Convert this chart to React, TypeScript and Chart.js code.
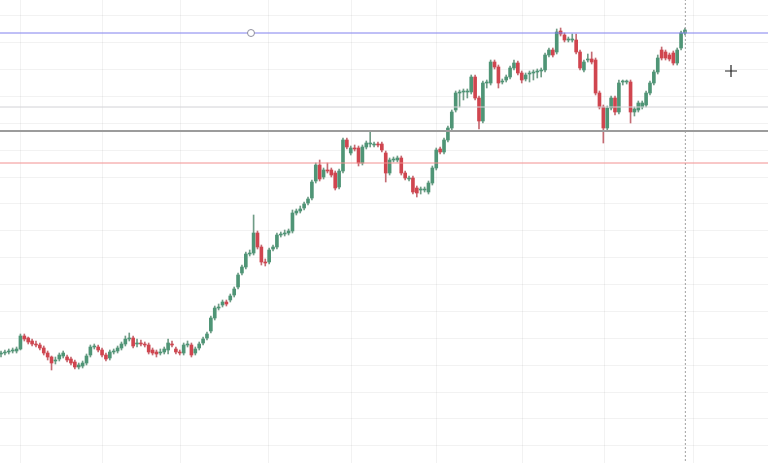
import React, { useEffect, useRef } from "react";
import { Chart, registerables } from "chart.js";

Chart.register(...registerables);

// OHLC candles (price units)
const opens = [146,147,148,149,149,151,164,162,159,156,155,152,147,143,139,141,144,143,141,138,133,134,137,145,153,153,150,145,142,148,149,152,156,161,162,156,157,156,155,150,148,147,148,150,156,151,148,147,155,155,147,152,157,162,169,182,192,195,198,200,205,213,227,233,246,247,267,253,238,238,251,253,265,266,267,269,287,289,292,297,302,319,335,323,330,330,327,313,329,360,347,352,352,337,353,356,355,356,356,347,327,340,340,342,327,321,322,312,310,310,308,317,332,351,348,360,372,390,407,408,408,408,423,402,379,417,417,438,433,418,420,423,432,437,427,421,426,427,428,429,430,445,450,448,469,465,460,460,460,448,430,440,441,440,407,393,372,392,402,388,418,418,418,388,390,393,395,407,417,428,450,448,445,447,437,452,467];
const highs = [149,150,151,152,153,166,166,163,161,159,157,154,149,144,143,147,149,145,143,140,137,139,146,155,156,155,152,147,150,151,154,158,164,167,164,161,160,158,157,152,150,151,153,161,159,153,150,157,159,157,153,158,163,168,184,194,196,200,200,206,213,227,235,248,250,285,269,255,241,252,255,267,268,270,271,290,291,294,298,303,320,337,340,332,337,332,329,331,362,362,354,355,354,355,359,368,358,358,358,349,342,343,344,344,329,324,324,314,313,313,319,334,352,353,362,374,390,409,410,411,411,425,425,404,419,420,440,440,435,421,425,434,440,439,429,427,429,430,431,432,447,452,452,471,472,467,463,466,466,450,440,446,448,442,409,395,394,404,404,420,420,420,420,393,399,399,409,419,430,445,453,450,447,449,452,469,472];
const lows = [143,145,146,147,147,150,159,156,154,153,150,145,140,130,136,139,142,138,135,131,131,132,135,143,151,148,143,139,140,146,147,150,154,159,152,153,154,153,146,145,143,145,146,146,153,146,145,145,153,143,145,150,155,160,167,180,190,193,194,198,203,211,225,231,244,245,251,235,234,236,249,251,263,264,265,267,285,287,290,295,300,317,319,321,327,323,310,311,327,351,345,349,334,335,351,353,353,353,348,318,325,338,338,325,320,319,306,303,306,308,306,315,330,346,346,358,370,388,393,400,402,406,400,371,377,412,415,431,412,416,418,421,430,425,417,419,418,420,422,423,428,443,443,446,464,458,458,458,446,430,428,438,436,405,391,357,370,390,385,386,415,416,377,384,388,391,393,405,415,426,440,440,439,435,435,450,465];
const closes = [147,148,149,149,151,164,161,158,156,155,152,147,143,137,140,145,147,140,137,133,135,137,144,153,154,150,145,141,148,149,152,156,161,162,154,157,156,155,148,147,146,148,151,157,155,148,147,155,156,145,151,156,161,166,182,192,193,198,196,204,211,225,233,246,247,267,253,238,237,250,253,265,266,267,269,287,289,291,296,301,318,335,321,330,329,325,312,329,360,353,352,351,337,353,357,356,355,355,350,327,340,340,342,327,322,321,308,307,310,311,317,332,350,348,360,372,388,407,408,408,409,423,402,379,417,418,438,433,417,419,423,432,437,427,420,425,427,428,429,430,445,450,445,468,466,460,460,461,448,432,438,441,438,407,393,372,392,402,388,417,418,418,388,391,397,397,407,417,428,442,442,442,441,437,450,467,470];

// drawn horizontal levels (price units)
const resistanceLevel = 467;
const upperLevel = 393;
const pivotLevel = 369;
const supportLevel = 337;

// axis ranges and grid positions (candle index / price)
const indexMin = -0.26;
const indexMax = 197.37;
const priceMin = 37;
const priceMax = 500;
const timeGrid = [4.89, 25.99, 46.06, 68.7, 90.06, 111.94, 134.07, 155.17, 178.07];
const priceGrid = [485, 458, 431, 404, 377, 350, 323, 297, 270, 243, 216, 189, 162, 135, 108, 82, 55];

const handleIndex = 64.33;
const crosshairIndex = 176.1;
const cursorIndex = 187.85;
const cursorPrice = 429;

const UP = "#4f9576";
const DOWN = "#d0454f";
const UP_WICK = "#6f9c86";
const DOWN_WICK = "#c46a72";
const GRID = "rgba(0,0,0,0.05)";

const gridPlugin = {
  id: "bgGrid",
  beforeDatasetsDraw(chart: any) {
    const { ctx, chartArea, scales } = chart;
    const xs = scales.x;
    const ys = scales.y;
    ctx.save();
    ctx.strokeStyle = GRID;
    ctx.lineWidth = 1;
    ctx.beginPath();
    for (const v of timeGrid) {
      const px = Math.round(xs.getPixelForValue(v)) + 0.5;
      ctx.moveTo(px, chartArea.top);
      ctx.lineTo(px, chartArea.bottom);
    }
    for (const v of priceGrid) {
      const py = Math.round(ys.getPixelForValue(v)) + 0.5;
      ctx.moveTo(chartArea.left, py);
      ctx.lineTo(chartArea.right, py);
    }
    ctx.stroke();
    ctx.restore();
  },
};

export default function App() {
  const ref = useRef<HTMLCanvasElement | null>(null);

  useEffect(() => {
    document.body.style.margin = "0";
    if (!ref.current) return;
    const idx = opens.map((_, i) => i);
    const isUp = idx.map((i) => closes[i] >= opens[i]);
    const hline = (v: number) => [
      { x: indexMin - 2, y: v },
      { x: indexMax + 2, y: v },
    ];

    const chart = new Chart(ref.current, {
      type: "bar",
      data: {
        datasets: [
          {
            type: "line",
            label: "resistance",
            data: hline(resistanceLevel),
            borderColor: "#8080ee",
            borderWidth: 1,
            pointRadius: 0,
            order: 0,
          } as any,
          {
            type: "line",
            label: "handle",
            data: [{ x: handleIndex, y: resistanceLevel }],
            showLine: false,
            pointRadius: 3.5,
            pointBackgroundColor: "#ffffff",
            pointBorderColor: "#8e8e9e",
            pointBorderWidth: 1,
            order: -1,
          } as any,
          {
            type: "line",
            label: "upper",
            data: hline(upperLevel),
            borderColor: "#d2d2d6",
            borderWidth: 1,
            pointRadius: 0,
            order: 0,
          } as any,
          {
            type: "line",
            label: "pivot",
            data: hline(pivotLevel),
            borderColor: "#9c9c9c",
            borderWidth: 2,
            pointRadius: 0,
            order: 0,
          } as any,
          {
            type: "line",
            label: "support",
            data: hline(supportLevel),
            borderColor: "#f29090",
            borderWidth: 1,
            pointRadius: 0,
            order: 0,
          } as any,
          {
            type: "line",
            label: "crosshair",
            data: [
              { x: crosshairIndex, y: priceMin - 10 },
              { x: crosshairIndex, y: priceMax + 10 },
            ],
            borderColor: "#a0a0a0",
            borderWidth: 1,
            borderDash: [2, 2],
            pointRadius: 0,
            order: 0,
          } as any,
          {
            type: "line",
            label: "cursor",
            data: [{ x: cursorIndex, y: cursorPrice }],
            showLine: false,
            pointStyle: "cross",
            pointRadius: 6,
            pointBorderColor: "#222222",
            pointBorderWidth: 1.2,
            order: -1,
          } as any,
          {
            type: "bar",
            label: "bodies",
            data: idx.map((i) => ({ x: i, y: [opens[i], closes[i]] })),
            backgroundColor: isUp.map((u) => (u ? UP : DOWN)),
            barThickness: 3,
            minBarLength: 1,
            grouped: false,
            order: 1,
          } as any,
          {
            type: "bar",
            label: "wicks",
            data: idx.map((i) => ({ x: i, y: [lows[i], highs[i]] })),
            backgroundColor: isUp.map((u) => (u ? UP_WICK : DOWN_WICK)),
            barThickness: 1,
            grouped: false,
            order: 2,
          } as any,
        ],
      },
      options: {
        responsive: false,
        maintainAspectRatio: false,
        animation: false,
        devicePixelRatio: 1,
        layout: { padding: 0, autoPadding: false },
        plugins: { legend: { display: false }, tooltip: { enabled: false } },
        scales: {
          x: {
            type: "linear",
            display: false,
            offset: false,
            min: indexMin,
            max: indexMax,
          },
          y: {
            type: "linear",
            display: false,
            min: priceMin,
            max: priceMax,
          },
        },
      } as any,
      plugins: [gridPlugin],
    });
    return () => chart.destroy();
  }, []);

  return (
    <div
      style={{
        position: "fixed",
        left: 0,
        top: 0,
        width: 768,
        height: 463,
        background: "#ffffff",
      }}
    >
      <canvas
        ref={ref}
        width={768}
        height={463}
        style={{ display: "block", width: 768, height: 463 }}
      />
    </div>
  );
}
